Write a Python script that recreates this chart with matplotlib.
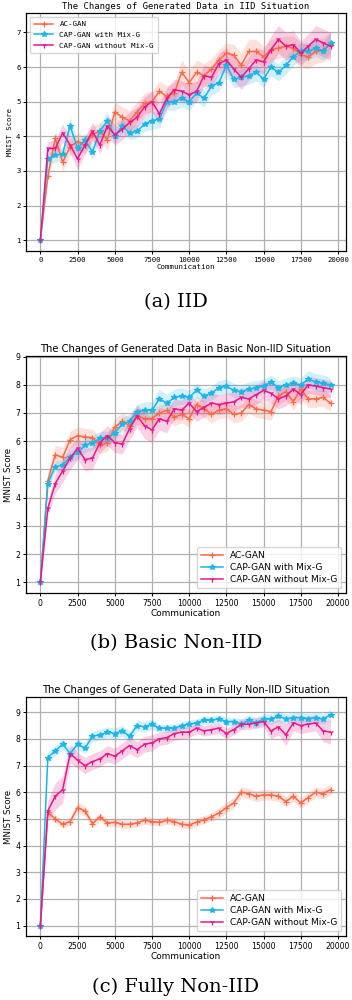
import matplotlib

matplotlib.use("Agg")
import matplotlib.pyplot as plt
import numpy as np

# communication rounds (x axis, shared by all panels)
rounds = list(range(0, 20000, 500))

series_names = ["AC-GAN", "CAP-GAN with Mix-G", "CAP-GAN without Mix-G"]

# (a) IID
iid_ac = [1.0, 2.85, 3.95, 3.25, 3.7, 3.85, 3.75, 4.05, 4.15, 3.9,
          4.7, 4.55, 4.45, 4.7, 4.95, 5.0, 5.3, 5.15, 5.25, 5.85,
          5.55, 5.85, 5.75, 5.95, 6.2, 6.4, 6.35, 6.05, 6.45, 6.45,
          6.3, 6.5, 6.55, 6.6, 6.55, 6.35, 6.3, 6.45, 6.5, 6.65]
iid_mix = [1.0, 3.35, 3.45, 3.5, 4.3, 3.65, 3.9, 3.55, 4.15, 4.45,
           4.0, 4.3, 4.1, 4.15, 4.35, 4.45, 4.5, 5.0, 5.0, 5.1,
           5.0, 5.25, 5.1, 5.45, 5.55, 6.05, 5.65, 5.7, 5.75, 5.85,
           5.65, 6.0, 5.85, 6.05, 6.3, 6.45, 6.45, 6.55, 6.45, 6.7]
iid_nomix = [1.0, 3.65, 3.65, 4.1, 3.75, 3.35, 3.75, 4.15, 3.75, 4.3,
             4.05, 4.2, 4.4, 4.55, 4.85, 5.0, 4.65, 5.1, 5.35, 5.3,
             5.2, 5.3, 5.75, 5.7, 6.1, 6.2, 5.95, 5.7, 5.95, 6.2,
             6.15, 6.5, 6.8, 6.6, 6.65, 6.4, 6.6, 6.8, 6.7, 6.6]
iid_ac_sd = [0.0, 0.15, 0.2, 0.25, 0.25, 0.25, 0.25, 0.25, 0.25, 0.3,
             0.3, 0.3, 0.3, 0.3, 0.3, 0.3, 0.3, 0.3, 0.3, 0.35,
             0.35, 0.35, 0.35, 0.3, 0.3, 0.3, 0.3, 0.35, 0.35, 0.35,
             0.3, 0.3, 0.3, 0.3, 0.35, 0.35, 0.35, 0.35, 0.35, 0.35]
iid_mix_sd = [0.0, 0.15, 0.2, 0.2, 0.25, 0.2, 0.2, 0.2, 0.2, 0.25,
              0.2, 0.2, 0.2, 0.2, 0.2, 0.25, 0.25, 0.25, 0.25, 0.25,
              0.25, 0.25, 0.25, 0.25, 0.25, 0.3, 0.25, 0.25, 0.25, 0.25,
              0.25, 0.25, 0.25, 0.25, 0.25, 0.25, 0.25, 0.25, 0.25, 0.3]
iid_nomix_sd = [0.0, 0.2, 0.25, 0.25, 0.25, 0.3, 0.25, 0.25, 0.25, 0.3,
                0.3, 0.3, 0.3, 0.3, 0.3, 0.3, 0.3, 0.3, 0.3, 0.3,
                0.3, 0.3, 0.3, 0.3, 0.3, 0.35, 0.35, 0.35, 0.35, 0.35,
                0.35, 0.4, 0.4, 0.4, 0.4, 0.35, 0.35, 0.4, 0.4, 0.4]

# (b) Basic Non-IID
basic_ac = [1.0, 4.6, 5.52, 5.43, 6.05, 6.2, 6.15, 6.13, 5.85, 5.95,
            6.5, 6.7, 6.55, 6.9, 6.8, 6.8, 7.0, 7.1, 6.85, 6.95,
            6.8, 7.3, 7.15, 6.95, 7.1, 7.15, 6.95, 7.0, 7.3, 7.15,
            7.1, 7.05, 7.6, 7.75, 7.4, 7.85, 7.5, 7.5, 7.55, 7.35]
basic_mix = [1.0, 4.5, 5.1, 5.15, 5.45, 5.6, 5.85, 5.95, 6.1, 6.1,
             6.3, 6.6, 6.7, 7.05, 7.1, 7.1, 7.5, 7.35, 7.55, 7.6,
             7.55, 7.8, 7.6, 7.7, 7.9, 7.95, 7.8, 7.75, 7.85, 7.9,
             7.95, 8.1, 7.9, 8.0, 8.05, 8.0, 8.2, 8.1, 8.05, 8.0]
basic_nomix = [1.0, 3.62, 4.5, 4.95, 5.4, 5.75, 5.35, 5.4, 5.95, 6.2,
               5.95, 5.9, 6.45, 6.9, 6.55, 6.4, 6.8, 6.7, 7.15, 7.1,
               7.35, 7.05, 7.2, 7.35, 7.3, 7.35, 7.4, 7.55, 7.5, 7.65,
               7.8, 7.7, 7.5, 7.6, 7.85, 7.65, 8.0, 7.95, 7.9, 7.85]
basic_ac_sd = [0.0, 0.3, 0.35, 0.35, 0.3, 0.3, 0.3, 0.3, 0.3, 0.3,
               0.3, 0.3, 0.3, 0.3, 0.3, 0.3, 0.3, 0.3, 0.3, 0.3,
               0.3, 0.3, 0.3, 0.3, 0.3, 0.3, 0.3, 0.3, 0.3, 0.3,
               0.3, 0.3, 0.3, 0.3, 0.3, 0.3, 0.3, 0.3, 0.3, 0.3]
basic_mix_sd = [0.0, 0.2, 0.2, 0.2, 0.2, 0.25, 0.25, 0.25, 0.25, 0.25,
                0.25, 0.25, 0.25, 0.25, 0.3, 0.3, 0.35, 0.3, 0.3, 0.3,
                0.25, 0.25, 0.25, 0.25, 0.25, 0.25, 0.25, 0.25, 0.25, 0.25,
                0.25, 0.25, 0.25, 0.25, 0.25, 0.25, 0.3, 0.3, 0.3, 0.25]
basic_nomix_sd = [0.0, 0.25, 0.35, 0.4, 0.4, 0.4, 0.4, 0.4, 0.35, 0.35,
                  0.35, 0.35, 0.4, 0.4, 0.45, 0.45, 0.4, 0.4, 0.35, 0.35,
                  0.35, 0.35, 0.35, 0.35, 0.35, 0.35, 0.35, 0.35, 0.35, 0.35,
                  0.35, 0.35, 0.35, 0.35, 0.35, 0.35, 0.3, 0.3, 0.3, 0.3]

# (c) Fully Non-IID
fully_ac = [1.0, 5.25, 5.0, 4.8, 4.9, 5.42, 5.3, 4.82, 5.08, 4.85,
            4.87, 4.8, 4.8, 4.85, 4.95, 4.9, 4.87, 4.95, 4.9, 4.8,
            4.77, 4.88, 4.97, 5.08, 5.22, 5.42, 5.6, 6.0, 5.95, 5.85,
            5.9, 5.9, 5.85, 5.65, 5.85, 5.6, 5.8, 6.0, 5.95, 6.1]
fully_mix = [1.0, 7.3, 7.55, 7.8, 7.45, 7.8, 7.65, 8.1, 8.15, 8.25,
             8.2, 8.3, 8.1, 8.5, 8.45, 8.55, 8.4, 8.4, 8.4, 8.5,
             8.55, 8.6, 8.7, 8.7, 8.75, 8.65, 8.65, 8.55, 8.7, 8.6,
             8.75, 8.75, 8.85, 8.75, 8.8, 8.8, 8.75, 8.8, 8.75, 8.9]
fully_nomix = [1.0, 5.3, 5.85, 6.1, 7.45, 7.2, 7.0, 7.15, 7.25, 7.45,
               7.35, 7.55, 7.75, 7.6, 7.8, 7.85, 8.0, 8.05, 8.2, 8.25,
               8.25, 8.4, 8.3, 8.35, 8.4, 8.2, 8.35, 8.55, 8.55, 8.6,
               8.65, 8.3, 8.45, 8.15, 8.6, 8.5, 8.55, 8.6, 8.3, 8.25]
fully_ac_sd = [0.0, 0.15, 0.15, 0.15, 0.15, 0.2, 0.2, 0.15, 0.15, 0.15,
               0.15, 0.15, 0.15, 0.15, 0.15, 0.15, 0.15, 0.15, 0.15, 0.15,
               0.15, 0.15, 0.15, 0.15, 0.2, 0.2, 0.2, 0.2, 0.2, 0.2,
               0.2, 0.2, 0.2, 0.2, 0.2, 0.2, 0.2, 0.2, 0.2, 0.2]
fully_mix_sd = [0.0, 0.2, 0.2, 0.2, 0.2, 0.2, 0.2, 0.2, 0.2, 0.2,
                0.2, 0.2, 0.2, 0.2, 0.2, 0.2, 0.15, 0.15, 0.15, 0.15,
                0.15, 0.15, 0.15, 0.15, 0.15, 0.15, 0.15, 0.2, 0.2, 0.2,
                0.2, 0.2, 0.2, 0.2, 0.2, 0.2, 0.2, 0.2, 0.2, 0.2]
fully_nomix_sd = [0.0, 0.4, 0.5, 0.5, 0.35, 0.3, 0.3, 0.3, 0.3, 0.3,
                  0.3, 0.3, 0.3, 0.3, 0.3, 0.3, 0.25, 0.25, 0.25, 0.25,
                  0.2, 0.2, 0.2, 0.2, 0.2, 0.2, 0.2, 0.2, 0.2, 0.2,
                  0.2, 0.3, 0.3, 0.4, 0.3, 0.3, 0.3, 0.3, 0.4, 0.45]

colors = ["#fa6a48", "#1cb5e8", "#e8178a"]
markers = ["+", "*", "1"]

xticks = list(range(0, 20001, 2500))

panels = [
    {
        "title": "The Changes of Generated Data in IID Situation",
        "caption": "(a) IID",
        "means": [iid_ac, iid_mix, iid_nomix],
        "sds": [iid_ac_sd, iid_mix_sd, iid_nomix_sd],
        "rect": [0.0739, 0.749, 0.909, 0.238],
        "ylim": (0.69, 7.56),
        "yticks": list(range(1, 8)),
        "legend_loc": "upper left",
        "font": "DejaVu Sans Mono",
        "caption_y": 0.698,
    },
    {
        "title": "The Changes of Generated Data in Basic Non-IID Situation",
        "caption": "(b) Basic Non-IID",
        "means": [basic_ac, basic_mix, basic_nomix],
        "sds": [basic_ac_sd, basic_mix_sd, basic_nomix_sd],
        "rect": [0.0739, 0.407, 0.909, 0.237],
        "ylim": (0.62, 9.02),
        "yticks": list(range(1, 10)),
        "legend_loc": "lower right",
        "font": "DejaVu Sans",
        "caption_y": 0.357,
    },
    {
        "title": "The Changes of Generated Data in Fully Non-IID Situation",
        "caption": "(c) Fully Non-IID",
        "means": [fully_ac, fully_mix, fully_nomix],
        "sds": [fully_ac_sd, fully_mix_sd, fully_nomix_sd],
        "rect": [0.0739, 0.064, 0.909, 0.239],
        "ylim": (0.61, 9.57),
        "yticks": list(range(1, 10)),
        "legend_loc": "lower right",
        "font": "DejaVu Sans",
        "caption_y": 0.013,
    },
]

fig = plt.figure(figsize=(3.52, 10), dpi=100)
x = np.array(rounds)

for p in panels:
    ax = fig.add_axes(p["rect"])
    mono = p["font"] == "DejaVu Sans Mono"
    for name, mean, sd, c, m in zip(series_names, p["means"], p["sds"], colors, markers):
        mean = np.array(mean)
        sd = np.array(sd)
        ax.fill_between(x, mean - sd, mean + sd, color=c, alpha=0.2, linewidth=0)
        ax.plot(x, mean, color=c, marker=m, markersize=4.3, linewidth=1.1,
                markeredgewidth=0.9, label=name)
    ax.set_xlim(-965, 20540)
    ax.set_ylim(*p["ylim"])
    ax.set_xticks(xticks)
    ax.set_yticks(p["yticks"])
    ax.grid(True, color="#b0b0b0", linewidth=0.9)
    ax.set_axisbelow(True)
    for s in ax.spines.values():
        s.set_linewidth(0.9)
    ax.tick_params(labelsize=5.2 if mono else 5.6, length=2.5, width=0.7, pad=1.5)
    for lab in ax.get_xticklabels() + ax.get_yticklabels():
        lab.set_family(p["font"])
    ax.set_title(p["title"], fontsize=6.4 if mono else 7.2, family=p["font"], pad=3)
    ax.set_xlabel("Communication", fontsize=5.3 if mono else 6.4, family=p["font"], labelpad=1)
    ax.set_ylabel("MNIST Score", fontsize=5.2 if mono else 6.2, family=p["font"], labelpad=2)
    if mono:
        ax.legend(loc=p["legend_loc"], prop={"family": p["font"], "size": 5.4},
                  handlelength=2.6, borderpad=0.55, labelspacing=0.6, framealpha=0.8,
                  edgecolor="#cccccc", fancybox=True)
    else:
        ax.legend(loc=p["legend_loc"], prop={"family": p["font"], "size": 6.5},
                  handlelength=2.4, borderpad=0.45, labelspacing=0.35, framealpha=0.8,
                  edgecolor="#cccccc", fancybox=True)
    fig.text(0.5, p["caption_y"], p["caption"], ha="center", va="center",
             fontsize=14, family="DejaVu Serif")

fig.savefig("out.png", dpi=100)
